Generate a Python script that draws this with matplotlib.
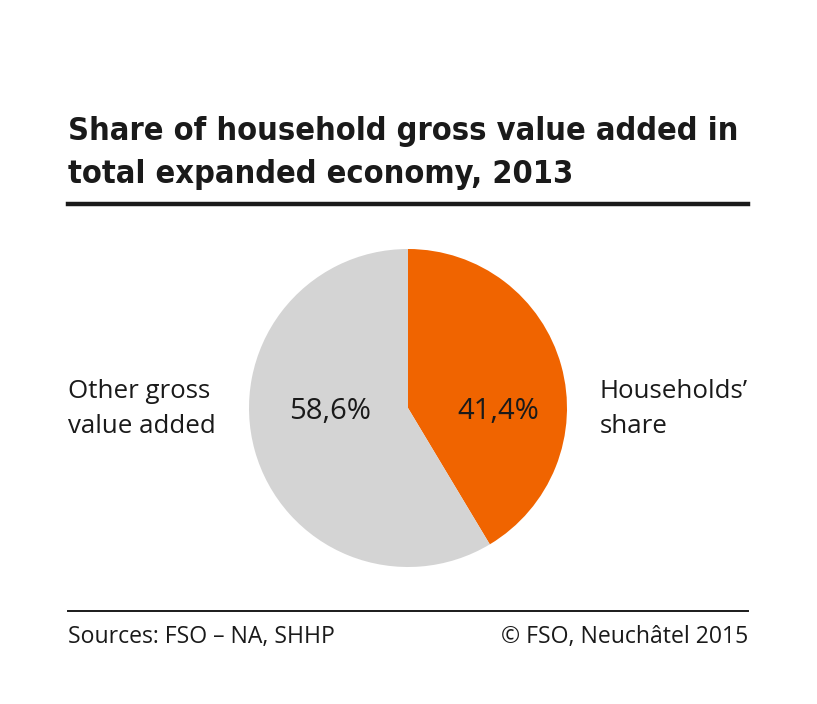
import matplotlib.pyplot as plt
from matplotlib.lines import Line2D
from matplotlib import font_manager

# --------------------------------------
# data

categories = ["Households' share", "Other gross value added"]
shares = [41.4, 58.6]
pct_labels = ["41,4%", "58,6%"]
colors = ["#F06400", "#D4D4D4"]

title_lines = ["Share of household gross value added in", "total expanded economy, 2013"]
source = "Sources: FSO \u2013 NA, SHHP"
copyright = "\u00a9 FSO, Neuch\u00e2tel 2015"

W, H = 817, 704
INK = "#1a1a1a"

# --------------------------------------

def fx(px):
    return px / W

def fy(py):
    return 1 - py / H

fig = plt.figure(figsize=(W / 100, H / 100), dpi=100)
renderer = fig.canvas.get_renderer()

def fit(txt, width_px):
    """Rescale a text so that it spans width_px pixels."""
    w = txt.get_window_extent(renderer).width
    txt.set_fontsize(txt.get_fontsize() * width_px / w)
    return txt

# look for a condensed bold face for the title
cond = [f for f in font_manager.fontManager.ttflist
        if "condensed" in f.fname.lower() and "bold" in f.fname.lower()
        and "oblique" not in f.fname.lower() and "italic" not in f.fname.lower()]
print([f.fname for f in cond])
if cond:
    title_prop = font_manager.FontProperties(fname=cond[0].fname)
else:
    title_prop = font_manager.FontProperties(family="Open Sans", weight="bold")

body = ["Open Sans", "DejaVu Sans"]

t1 = fig.text(fx(68), fy(140), title_lines[0], ha="left", va="baseline",
              fontproperties=title_prop, fontsize=26, color=INK)
fit(t1, 672)
t2 = fig.text(fx(68), fy(183), title_lines[1], ha="left", va="baseline",
              fontproperties=title_prop, fontsize=t1.get_fontsize(), color=INK)

fig.add_artist(Line2D([fx(68), fx(748)], [fy(204), fy(204)], color=INK, lw=3.2))
fig.add_artist(Line2D([fx(68), fx(748)], [fy(611), fy(611)], color=INK, lw=1.4))

# pie, center (408, 408), radius 159 px
ax = fig.add_axes([fx(249), fy(567), 318 / W, 318 / H])
ax.pie(shares, colors=colors, startangle=90, counterclock=False,
       wedgeprops={"linewidth": 0})
ax.set_xlim(-1, 1)
ax.set_ylim(-1, 1)
ax.set_aspect("equal")
ax.axis("off")

p1 = ax.text(0.57, -0.02, pct_labels[0], ha="center", va="center", fontsize=18,
             family=body, color=INK)
fit(p1, 82)
p2 = ax.text(-0.49, -0.02, pct_labels[1], ha="center", va="center",
             fontsize=p1.get_fontsize(), family=body, color=INK)

l1 = fig.text(fx(68), fy(398), "Other gross", ha="left", va="baseline",
              fontsize=18, family=body, color=INK)
fit(l1, 142)
fs = l1.get_fontsize()
fig.text(fx(68), fy(433), "value added", ha="left", va="baseline",
         fontsize=fs, family=body, color=INK)
fig.text(fx(600), fy(398), "Households\u2019", ha="left", va="baseline",
         fontsize=fs, family=body, color=INK)
fig.text(fx(600), fy(433), "share", ha="left", va="baseline",
         fontsize=fs, family=body, color=INK)

s1 = fig.text(fx(68), fy(643), source, ha="left", va="baseline", fontsize=15,
              family=body, color=INK)
fit(s1, 267)
fig.text(fx(748), fy(643), copyright, ha="right", va="baseline",
         fontsize=s1.get_fontsize(), family=body, color=INK)

fig.savefig("out.png", dpi=100, facecolor="white")
